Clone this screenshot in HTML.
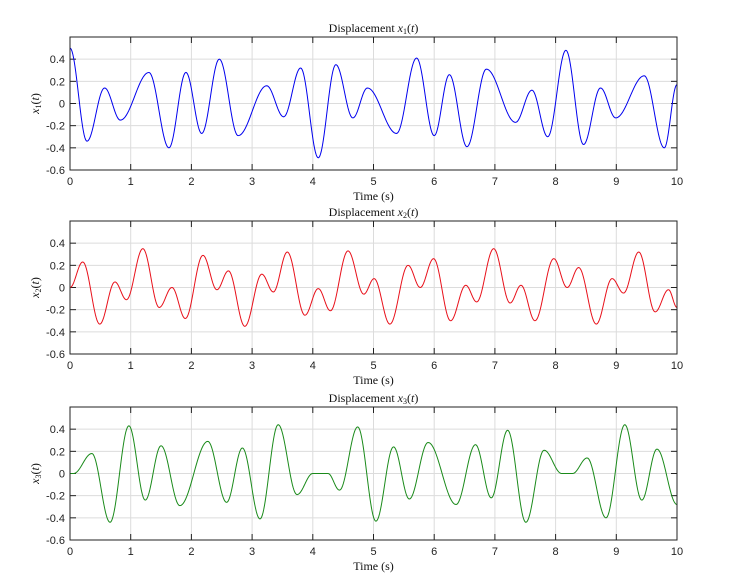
<!DOCTYPE html>
<html><head><meta charset="utf-8">
<style>
body{margin:0;background:#fff;}
svg{display:block;}
.tick{font-family:"Liberation Sans",sans-serif;font-size:11px;fill:#222;}
.ttl{font-family:"Liberation Serif",serif;font-size:12px;fill:#111;}
</style></head>
<body>
<svg id="chart" width="738" height="586" viewBox="0 0 738 586" xmlns="http://www.w3.org/2000/svg"></svg>
<script>
// extrema (time, value)
const x1Times=[0,0.28,0.57,0.83,1.3,1.63,1.91,2.17,2.46,2.77,3.24,3.52,3.8,4.09,4.38,4.66,4.9,5.38,5.71,6.0,6.25,6.54,6.86,7.34,7.61,7.87,8.17,8.46,8.74,8.99,9.46,9.79,10];
const x1Values=[0.5,-0.34,0.14,-0.15,0.28,-0.40,0.28,-0.27,0.40,-0.29,0.16,-0.12,0.32,-0.49,0.35,-0.13,0.14,-0.27,0.41,-0.29,0.26,-0.39,0.31,-0.17,0.12,-0.30,0.48,-0.37,0.14,-0.13,0.25,-0.40,0.17];
const x2Times=[0,0.21,0.49,0.74,0.93,1.2,1.47,1.68,1.9,2.19,2.42,2.61,2.88,3.16,3.35,3.58,3.87,4.09,4.29,4.58,4.84,5.01,5.27,5.57,5.77,5.99,6.27,6.52,6.70,6.98,7.25,7.43,7.66,7.97,8.19,8.38,8.67,8.93,9.12,9.37,9.64,9.86,10];
const x2Values=[0,0.23,-0.33,0.05,-0.11,0.35,-0.18,0.0,-0.28,0.29,-0.02,0.15,-0.35,0.12,-0.04,0.32,-0.25,-0.01,-0.21,0.33,-0.06,0.08,-0.33,0.20,0.0,0.26,-0.30,0.02,-0.13,0.35,-0.14,0.02,-0.30,0.26,0.0,0.18,-0.33,0.08,-0.05,0.32,-0.22,-0.02,-0.18];
const x3Times=[0,0.06,0.36,0.66,0.97,1.24,1.5,1.81,2.27,2.58,2.84,3.13,3.43,3.74,4.0,4.25,4.44,4.74,5.04,5.33,5.59,5.9,6.36,6.68,6.94,7.21,7.51,7.81,8.1,8.28,8.52,8.83,9.14,9.42,9.67,10];
const x3Values=[0,0,0.18,-0.44,0.43,-0.24,0.25,-0.29,0.29,-0.26,0.23,-0.41,0.44,-0.19,0.0,0.0,-0.15,0.42,-0.43,0.24,-0.23,0.28,-0.28,0.26,-0.22,0.39,-0.44,0.21,0.0,0.0,0.14,-0.40,0.44,-0.24,0.22,-0.28];
const xTickLabels=["0","1","2","3","4","5","6","7","8","9","10"];
const yTickValues=[-0.6,-0.4,-0.2,0,0.2,0.4,0.6];
const yTickLabels=["-0.6","-0.4","-0.2","0","0.2","0.4",""];

const NS="http://www.w3.org/2000/svg";
const svg=document.getElementById('chart');
function mk(tag,attrs,parent){const e=document.createElementNS(NS,tag);for(const k in attrs)e.setAttribute(k,attrs[k]);(parent||svg).appendChild(e);return e;}

const L=70,R=677,H=133;
const panels=[
 {top:37,t:x1Times,v:x1Values,color:"#0000ee",sub:"1",name:"x1"},
 {top:221,t:x2Times,v:x2Values,color:"#e8101a",sub:"2",name:"x2"},
 {top:407,t:x3Times,v:x3Values,color:"#1a8a1a",sub:"3",name:"x3"}
];
panels.forEach(p=>{
  const xs=t=>L+(t/10)*(R-L);
  const ys=v=>p.top+H*(0.6-v)/1.2;
  const g=mk('g',{});
  
  
  xTickLabels.forEach((lab,i)=>{
    const x=xs(i);
    if(i>0&&i<10){const gl=mk('line',{x1:x,x2:x,y1:p.top,y2:p.top+H,stroke:'#dcdcdc','stroke-width':1},g);
      }
    const tb=mk('line',{x1:x,x2:x,y1:p.top+H,y2:p.top+H-6,stroke:'#222'},g);
    
    const tt=mk('line',{x1:x,x2:x,y1:p.top,y2:p.top+6,stroke:'#222'},g);
    
    const tx=mk('text',{x:x,y:p.top+H+15,'text-anchor':'middle',class:'tick'},g);
    tx.textContent=lab;
    
  });
  yTickValues.forEach((v,i)=>{
    const y=ys(v);
    if(i>0&&i<yTickValues.length-1){const gl=mk('line',{x1:L,x2:R,y1:y,y2:y,stroke:'#dcdcdc','stroke-width':1},g);
      }
    const tl=mk('line',{x1:L,x2:L+6,y1:y,y2:y,stroke:'#222'},g);
    
    const tr=mk('line',{x1:R,x2:R-6,y1:y,y2:y,stroke:'#222'},g);
    
    if(yTickLabels[i]){const tx=mk('text',{x:L-5,y:y+4,'text-anchor':'end',class:'tick'},g);
      tx.textContent=yTickLabels[i];
      }
  });
  let d="";
  for(let i=0;i<p.t.length-1;i++){
    const t0=p.t[i],t1=p.t[i+1],a=p.v[i],b=p.v[i+1];
    const n=24;
    for(let k=(i===0?0:1);k<=n;k++){
      const s=k/n;const t=t0+(t1-t0)*s;const v=a+(b-a)*(1-Math.cos(Math.PI*s))/2;
      d+=(d?"L":"M")+xs(t).toFixed(2)+","+ys(v).toFixed(2);
    }
  }
  const path=mk('path',{d:d,fill:'none',stroke:p.color,'stroke-width':1},g);
  
  
  const box=mk('rect',{x:L,y:p.top,width:R-L,height:H,fill:'none',stroke:'#222','stroke-width':1},g);
  
  const title=mk('text',{x:(L+R)/2,y:p.top-5,'text-anchor':'middle',class:'ttl'},g);
  title.innerHTML='Displacement <tspan font-style="italic">x</tspan><tspan font-size="8" dy="2">'+p.sub+'</tspan><tspan dy="-2">(</tspan><tspan font-style="italic">t</tspan>)';
  
  const xl=mk('text',{x:(L+R)/2,y:p.top+H+30,'text-anchor':'middle',class:'ttl'},g);
  xl.textContent='Time (s)';
  
  const cy=p.top+H/2;
  const yl=mk('text',{x:0,y:0,'text-anchor':'middle',class:'ttl',transform:'translate(39,'+cy+') rotate(-90)'},g);
  yl.innerHTML='<tspan font-style="italic">x</tspan><tspan font-size="8" dy="2">'+p.sub+'</tspan><tspan dy="-2">(</tspan><tspan font-style="italic">t</tspan>)';
  
});
</script>
</body></html>
